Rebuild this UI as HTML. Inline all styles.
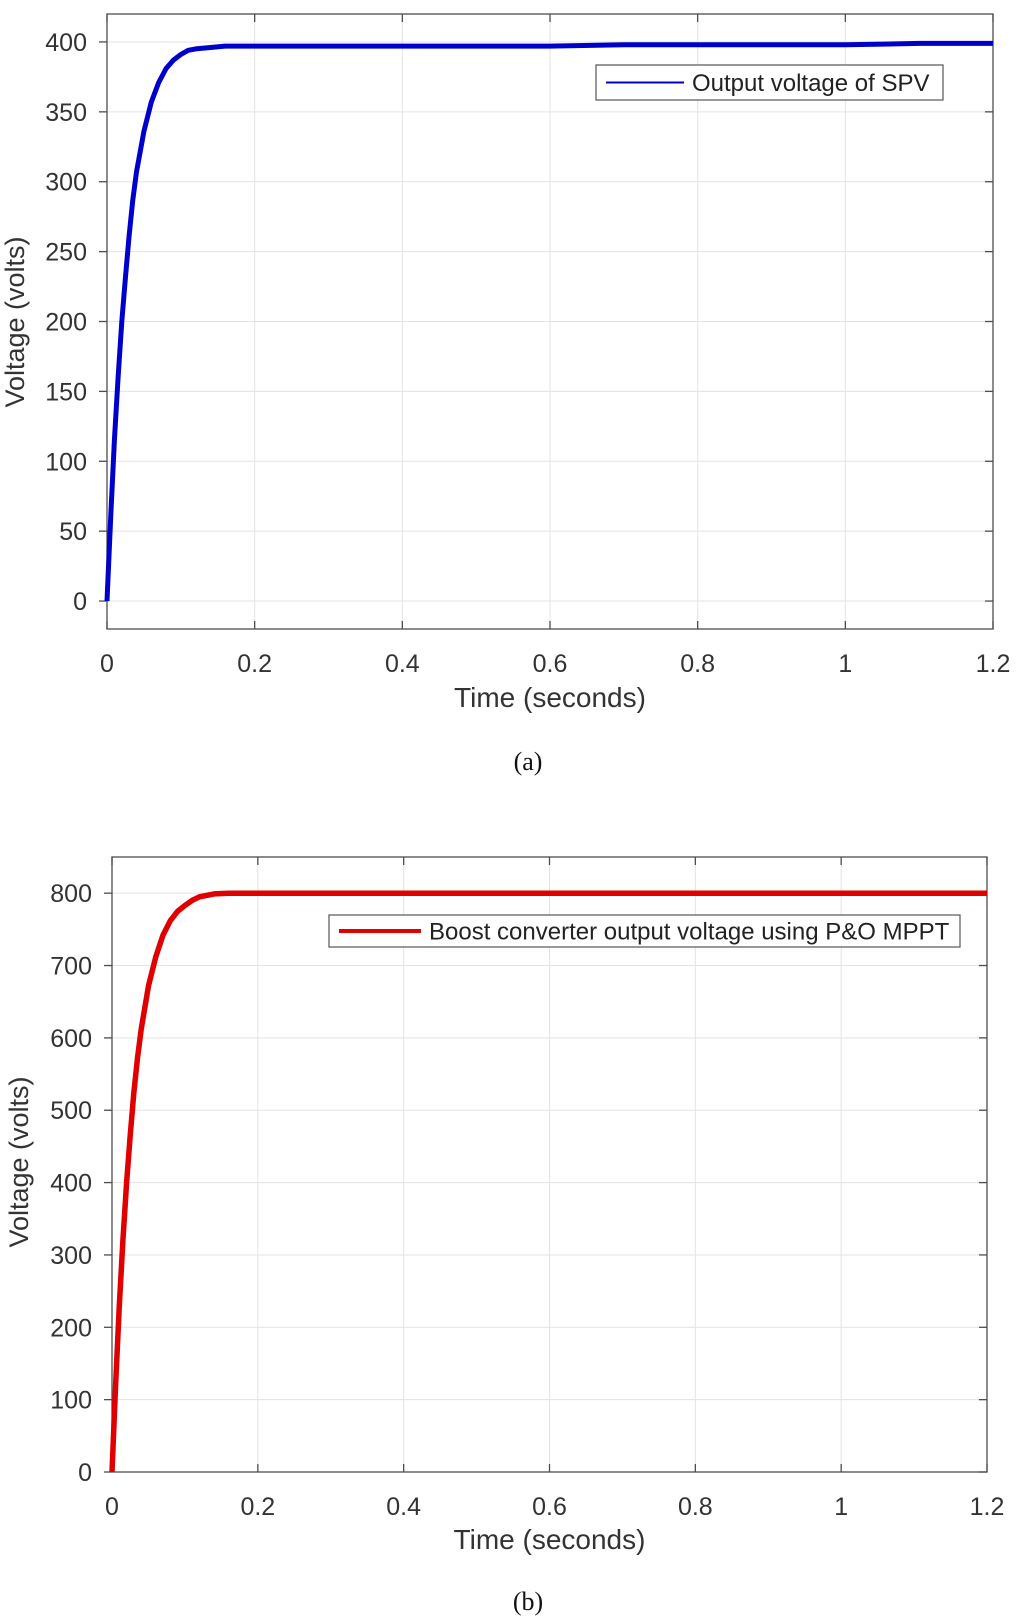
<!DOCTYPE html>
<html><head><meta charset="utf-8"><style>
body{margin:0;background:#fff;}
svg{display:block;font-family:"Liberation Sans",sans-serif;}
</style></head><body>
<svg id="svg" width="1017" height="1619" xmlns="http://www.w3.org/2000/svg"></svg>
<script>
const xTicks = [0, 0.2, 0.4, 0.6, 0.8, 1, 1.2];
const xTickLabels = ["0", "0.2", "0.4", "0.6", "0.8", "1", "1.2"];
const timeA = [0,0.005,0.01,0.015,0.02,0.025,0.03,0.035,0.04,0.05,0.06,0.07,0.08,0.09,0.1,0.11,0.12,0.14,0.16,0.2,0.3,0.4,0.5,0.6,0.7,0.8,0.9,1.0,1.1,1.2];
const voltA = [0,60,115,160,200,232,262,287,307,336,357,371,381,387,391,394,395,396,397,397,397,397,397,397,398,398,398,398,399,399];
const yTicksA = [0,50,100,150,200,250,300,350,400];
const timeB = [0,0.005,0.01,0.015,0.02,0.025,0.03,0.035,0.04,0.05,0.06,0.07,0.08,0.09,0.1,0.11,0.12,0.14,0.16,0.2,0.3,0.4,0.5,0.6,0.7,0.8,0.9,1.0,1.1,1.2];
const voltB = [0,120,230,320,400,465,525,572,612,672,712,742,762,775,783,790,795,799,800,800,800,800,800,800,800,800,800,800,800,800];
const yTicksB = [0,100,200,300,400,500,600,700,800];

const NS = "http://www.w3.org/2000/svg";
const svg = document.getElementById('svg');
function mk(tag, attrs, parent, text){
  const e = document.createElementNS(NS, tag);
  for (const k in attrs) e.setAttribute(k, attrs[k]);
  if (text !== undefined) e.textContent = text;
  (parent || svg).appendChild(e);
  return e;
}

function chart(cfg){
  const g = mk('g', {});
  
  
  const sx = t => cfg.x0 + (t - 0) / 1.2 * (cfg.x1 - cfg.x0);
  const sy = v => cfg.yb - (v - cfg.ymin) / (cfg.ymax - cfg.ymin) * (cfg.yb - cfg.yt);
  xTicks.forEach((t) => {
    const l = mk('line', {x1:sx(t), x2:sx(t), y1:cfg.yt, y2:cfg.yb, stroke:'#e3e3e3', 'stroke-width':1}, g);
    
    
  });
  cfg.yTicks.forEach((v) => {
    const l = mk('line', {x1:cfg.x0, x2:cfg.x1, y1:sy(v), y2:sy(v), stroke:'#e3e3e3', 'stroke-width':1}, g);
    
    
  });
  const box = mk('rect', {x:cfg.x0, y:cfg.yt, width:cfg.x1-cfg.x0, height:cfg.yb-cfg.yt, fill:'none', stroke:'#4d4d4d', 'stroke-width':1.3}, g);
  
  
  xTicks.forEach((t, i) => {
    mk('line', {x1:sx(t), x2:sx(t), y1:cfg.yb, y2:cfg.yb-8, stroke:'#4d4d4d', 'stroke-width':1.3}, g);
    mk('line', {x1:sx(t), x2:sx(t), y1:cfg.yt, y2:cfg.yt+8, stroke:'#4d4d4d', 'stroke-width':1.3}, g);
    const tx = mk('text', {x:sx(t), y:cfg.xTickY, 'text-anchor':'middle', 'font-size':25, fill:'#333'}, g, xTickLabels[i]);
    
    
  });
  cfg.yTicks.forEach((v) => {
    mk('line', {x1:cfg.x0-8, x2:cfg.x0, y1:sy(v), y2:sy(v), stroke:'#4d4d4d', 'stroke-width':1.3}, g);
    mk('line', {x1:cfg.x1-8, x2:cfg.x1, y1:sy(v), y2:sy(v), stroke:'#4d4d4d', 'stroke-width':1.3}, g);
    const ty = mk('text', {x:cfg.x0-20, y:sy(v)+9, 'text-anchor':'end', 'font-size':25, fill:'#333'}, g, String(v));
    
    
  });
  const d = cfg.t.map((t, i) => (i ? 'L' : 'M') + sx(t).toFixed(1) + ' ' + sy(cfg.v[i]).toFixed(1)).join(' ');
  const p = mk('path', {d:d, fill:'none', stroke:cfg.color, 'stroke-width':cfg.sw, 'stroke-linejoin':'round'}, g);
  
  
  const xt = mk('text', {x:(cfg.x0+cfg.x1)/2, y:cfg.xTitleY, 'text-anchor':'middle', 'font-size':28, fill:'#333'}, g, 'Time (seconds)');
  
  
  const yt = mk('text', {x:0, y:0, 'text-anchor':'middle', 'font-size':27, fill:'#333', transform:'translate(' + cfg.yTitleX + ',' + cfg.yTitleY + ') rotate(-90)'}, g, 'Voltage (volts)');
  
  
  const lg = mk('g', {}, g);
  
  
  mk('rect', {x:cfg.lx, y:cfg.ly, width:cfg.lw, height:cfg.lh, fill:'#fff', stroke:'#555', 'stroke-width':1.2}, lg);
  mk('line', {x1:cfg.lx+10, x2:cfg.lx+cfg.lineLen, y1:cfg.ly+cfg.lh/2, y2:cfg.ly+cfg.lh/2, stroke:cfg.color, 'stroke-width':cfg.legSw}, lg);
  const lt = mk('text', {x:cfg.lx+cfg.lineLen+8, y:cfg.ly+cfg.lh/2+8.5, 'font-size':24, fill:'#222'}, lg, cfg.legend);
  
  
  const cap = mk('text', {x:cfg.capX, y:cfg.capY, 'text-anchor':'middle', 'font-size':26, fill:'#111', 'font-family':'"Liberation Serif", serif'}, g, cfg.caption);
  
  
}

chart({name:'chart-a', x0:107, x1:993, yt:14, yb:629, ymin:-20, ymax:420, yTicks:yTicksA,
  t:timeA, v:voltA, color:'#0000cc', sw:5, seriesName:'spv-voltage-line',
  xTickY:672, xTitleY:707, yTitleX:24, yTitleY:322,
  lx:596, ly:65, lw:347, lh:35, legend:'Output voltage of SPV', legSw:2, lineLen:88,
  caption:'(a)', capX:528, capY:770});
chart({name:'chart-b', x0:112, x1:987, yt:857, yb:1472, ymin:0, ymax:850, yTicks:yTicksB,
  t:timeB, v:voltB, color:'#e00000', sw:5.5, seriesName:'boost-voltage-line',
  xTickY:1515, xTitleY:1549, yTitleX:28, yTitleY:1162,
  lx:329, ly:915, lw:631, lh:32, legend:'Boost converter output voltage using P&O MPPT', legSw:4, lineLen:92,
  caption:'(b)', capX:528, capY:1610});
</script>
</body></html>
